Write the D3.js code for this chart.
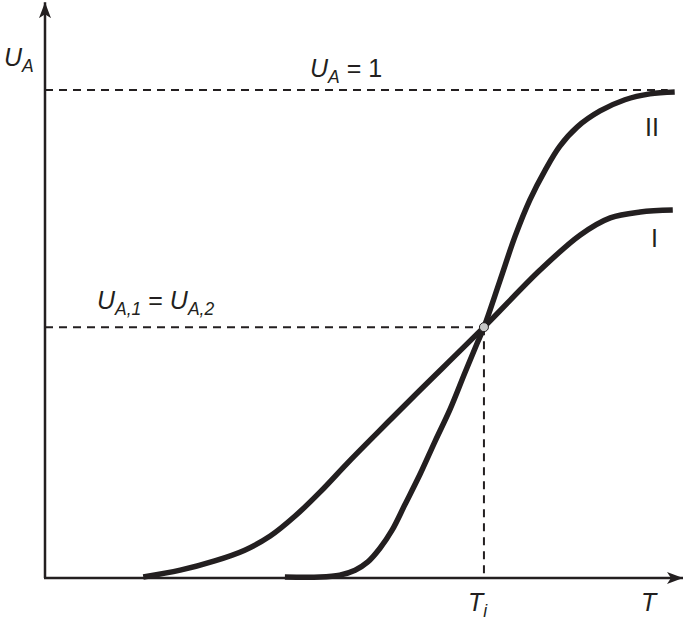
<!DOCTYPE html>
<html>
<head>
<meta charset="utf-8">
<script src="https://cdn.jsdelivr.net/npm/d3@7"></script>
<style>
  body { margin: 0; background: #fff; }
  svg { display: block; }
</style>
</head>
<body>
<svg width="685" height="623"></svg>
<script>
// curve I: flatter sigmoid (T, U_A)
const curveOne = [
  [15.4, 0.002], [21.2, 0.016], [26.6, 0.035], [31.3, 0.057], [35.3, 0.086],
  [39.2, 0.127], [43.1, 0.176], [47.3, 0.234], [52.2, 0.299], [57.7, 0.371],
  [68.8, 0.514], [77.6, 0.631], [83.9, 0.703], [88.6, 0.738], [93.3, 0.750],
  [98.4, 0.754],
];
// curve II: steep sigmoid
const curveTwo = [
  [37.6, 0.002], [43.1, 0.002], [46.2, 0.006], [48.6, 0.016], [50.6, 0.033],
  [52.5, 0.061], [54.4, 0.098], [56.4, 0.150], [58.8, 0.213], [61.1, 0.279],
  [63.5, 0.346], [65.8, 0.420], [67.7, 0.480], [68.8, 0.514], [71.3, 0.609],
  [73.7, 0.701], [76.0, 0.775], [78.4, 0.836], [80.7, 0.885], [83.4, 0.924],
  [87.0, 0.957], [90.9, 0.980], [94.8, 0.992], [98.7, 0.996],
];
const crossing = [68.8, 0.514];
const topLevel = 1;
const topLineEnd = 97.6;
const axisMax = {T: 100, U: 1.18};

const ink = '#231f20';
const font = '"Liberation Sans", Arial, Helvetica, sans-serif';

const svg = d3.select('svg');
const x = d3.scaleLinear().domain([0, 100]).range([45, 683]);
const y = d3.scaleLinear().domain([0, 1]).range([578, 90]);

// notched arrow head
svg.append('defs').append('marker')
  .attr('id', 'arrow')
  .attr('viewBox', '-16 -6 16 12')
  .attr('markerWidth', 16)
  .attr('markerHeight', 12)
  .attr('markerUnits', 'userSpaceOnUse')
  .attr('refX', 0)
  .attr('refY', 0)
  .attr('orient', 'auto')
  .append('path')
  .attr('d', 'M 0 0 L -16 -6 L -12 0 L -16 6 Z')
  .attr('fill', ink);

// axes
svg.append('line')
  .attr('x1', x(0)).attr('y1', y(0))
  .attr('x2', x(0)).attr('y2', y(axisMax.U))
  .attr('stroke', ink).attr('stroke-width', 2.5)
  .attr('marker-end', 'url(#arrow)');
svg.append('line')
  .attr('x1', x(0) - 1).attr('y1', y(0))
  .attr('x2', x(axisMax.T)).attr('y2', y(0))
  .attr('stroke', ink).attr('stroke-width', 2.5)
  .attr('marker-end', 'url(#arrow)');

// dashed guide lines
const dashed = (x1, y1, x2, y2) => svg.append('line')
  .attr('x1', x1).attr('y1', y1).attr('x2', x2).attr('y2', y2)
  .attr('stroke', ink).attr('stroke-width', 2)
  .attr('stroke-dasharray', '8,6');
dashed(x(0), y(topLevel), x(topLineEnd), y(topLevel));
dashed(x(0), y(crossing[1]), x(crossing[0]), y(crossing[1]));
dashed(x(crossing[0]), y(crossing[1]), x(crossing[0]), y(0));

// curves
const line = d3.line()
  .x(d => x(d[0]))
  .y(d => y(d[1]))
  .curve(d3.curveCatmullRom.alpha(0.5));
[curveOne, curveTwo].forEach(data => {
  svg.append('path')
    .attr('d', line(data))
    .attr('fill', 'none')
    .attr('stroke', ink)
    .attr('stroke-width', 5.5);
});

svg.append('circle')
  .attr('cx', x(crossing[0])).attr('cy', y(crossing[1]))
  .attr('r', 4.5)
  .attr('fill', '#c8c8c8')
  .attr('stroke', ink).attr('stroke-width', 1);

// labels: parts = [text, italic, subscript]
function label(px, py, parts, size = 25) {
  const t = svg.append('text')
    .attr('x', px).attr('y', py)
    .attr('font-family', font)
    .attr('font-size', size)
    .attr('fill', ink);
  let low = false;
  parts.forEach(([s, it, sub]) => {
    const span = t.append('tspan').text(s)
      .attr('font-style', it ? 'italic' : 'normal');
    if (sub) span.attr('font-size', size * 0.7);
    if (sub && !low) { span.attr('dy', 6); low = true; }
    else if (!sub && low) { span.attr('dy', -6); low = false; }
  });
  return t;
}

label(4, 66, [['U', true], ['A', true, true]]);
label(310, 77, [['U', true], ['A', true, true], ['  =  1', false]]);
label(97, 309, [['U', true], ['A,1', true, true], [' = ', false], ['U', true], ['A,2', true, true]]);
label(468, 611, [['T', true], ['i', true, true]]);
label(641, 611, [['T', true]]);
label(645, 136, [['II', false]]);
label(651, 247, [['I', false]]);
</script>
</body>
</html>
